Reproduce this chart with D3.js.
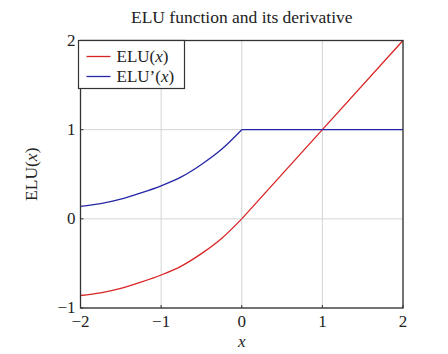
<!DOCTYPE html>
<html>
<head>
<meta charset="utf-8">
<script src="https://cdn.jsdelivr.net/npm/d3@7"></script>
<style>
  body { margin: 0; background: #fff; }
  text { font-family: "Liberation Serif", "DejaVu Serif", serif; fill: #222; }
</style>
</head>
<body>
<div id="chart"></div>
<script>
// Values
var xs      = [-2, -1.75, -1.5, -1.25, -1, -0.75, -0.5, -0.25, 0, 1, 2];
var eluVals = [-0.86, -0.83, -0.78, -0.71, -0.63, -0.53, -0.39, -0.22, 0, 1, 2];
var derVals = [0.14, 0.17, 0.22, 0.29, 0.37, 0.47, 0.61, 0.78, 1, 1, 1];
var xTicks = [-2, -1, 0, 1, 2];
var yTicks = [-1, 0, 1, 2];

var width = 448, height = 354;
var margin = { top: 40.5, right: 45, bottom: 46, left: 80.5 };
var w = width - margin.left - margin.right;
var h = height - margin.top - margin.bottom;

var svg = d3.select("#chart").append("svg")
    .attr("width", width)
    .attr("height", height);

var g = svg.append("g")
    .attr("transform", "translate(" + margin.left + "," + margin.top + ")");

var x = d3.scaleLinear().domain([-2, 2]).range([0, w]);
var y = d3.scaleLinear().domain([-1, 2]).range([h, 0]);

// grid
g.selectAll(".vgrid").data(xTicks).enter().append("line")
    .attr("x1", d => x(d)).attr("x2", d => x(d))
    .attr("y1", 0).attr("y2", h)
    .style("stroke", "#d4d4d4").style("stroke-width", 1);
g.selectAll(".hgrid").data(yTicks).enter().append("line")
    .attr("x1", 0).attr("x2", w)
    .attr("y1", d => y(d)).attr("y2", d => y(d))
    .style("stroke", "#d4d4d4").style("stroke-width", 1);

// series: curved part for x <= 0, straight part for x >= 0
function pts(vals) {
    return xs.map(function(v, i) { return [v, vals[i]]; });
}
var curved = d3.line().x(d => x(d[0])).y(d => y(d[1])).curve(d3.curveMonotoneX);
var straight = d3.line().x(d => x(d[0])).y(d => y(d[1]));

var series = [
    { name: "ELU(", color: "#d92424", data: pts(eluVals) },
    { name: "ELU\u2019(", color: "#2626a8", data: pts(derVals) }
];

series.forEach(function(s) {
    g.append("path")
        .attr("d", curved(s.data.filter(d => d[0] <= 0)))
        .style("fill", "none").style("stroke", s.color).style("stroke-width", 1.3);
    g.append("path")
        .attr("d", straight(s.data.filter(d => d[0] >= 0)))
        .style("fill", "none").style("stroke", s.color).style("stroke-width", 1.3);
});

// frame
g.append("rect")
    .attr("width", w).attr("height", h)
    .style("fill", "none").style("stroke", "#333").style("stroke-width", 1.3);

// ticks
g.selectAll(".xt").data(xTicks).enter().append("line")
    .attr("x1", d => x(d)).attr("x2", d => x(d))
    .attr("y1", h).attr("y2", h - 3)
    .style("stroke", "#333");
g.selectAll(".yt").data(yTicks).enter().append("line")
    .attr("x1", 0).attr("x2", 3)
    .attr("y1", d => y(d)).attr("y2", d => y(d))
    .style("stroke", "#333");

function fmt(d) { return d < 0 ? "\u2212" + Math.abs(d) : String(d); }

g.selectAll(".xl").data(xTicks).enter().append("text")
    .attr("x", d => x(d)).attr("y", h + 19)
    .attr("text-anchor", "middle")
    .style("font-size", "17px")
    .text(fmt);
g.selectAll(".yl").data(yTicks).enter().append("text")
    .attr("x", -5).attr("y", d => y(d) + 5)
    .attr("text-anchor", "end")
    .style("font-size", "17px")
    .text(fmt);

// axis labels
g.append("text")
    .attr("x", w / 2).attr("y", h + 39)
    .attr("text-anchor", "middle")
    .style("font-size", "17px").style("font-style", "italic")
    .text("x");

var yl = g.append("text")
    .attr("transform", "translate(-44," + (h / 2) + ") rotate(-90)")
    .attr("text-anchor", "middle")
    .style("font-size", "17.5px");
yl.append("tspan").text("ELU(");
yl.append("tspan").style("font-style", "italic").text("x");
yl.append("tspan").text(")");

// title
svg.append("text")
    .attr("x", margin.left + w / 2).attr("y", 23)
    .attr("text-anchor", "middle")
    .style("font-size", "17.5px")
    .text("ELU function and its derivative");

// legend
var lg = g.append("g");
lg.append("rect")
    .attr("x", -2).attr("y", 0).attr("width", 106).attr("height", 48)
    .style("fill", "#fff").style("stroke", "#333").style("stroke-width", 1.2);
series.forEach(function(s, i) {
    var ly = 16 + i * 20;
    lg.append("line")
        .attr("x1", 6).attr("x2", 30)
        .attr("y1", ly).attr("y2", ly)
        .style("stroke", s.color).style("stroke-width", 1.3);
    var t = lg.append("text")
        .attr("x", 36).attr("y", ly + 5)
        .style("font-size", "17px");
    t.append("tspan").text(s.name);
    t.append("tspan").style("font-style", "italic").text("x");
    t.append("tspan").text(")");
});
</script>
</body>
</html>
